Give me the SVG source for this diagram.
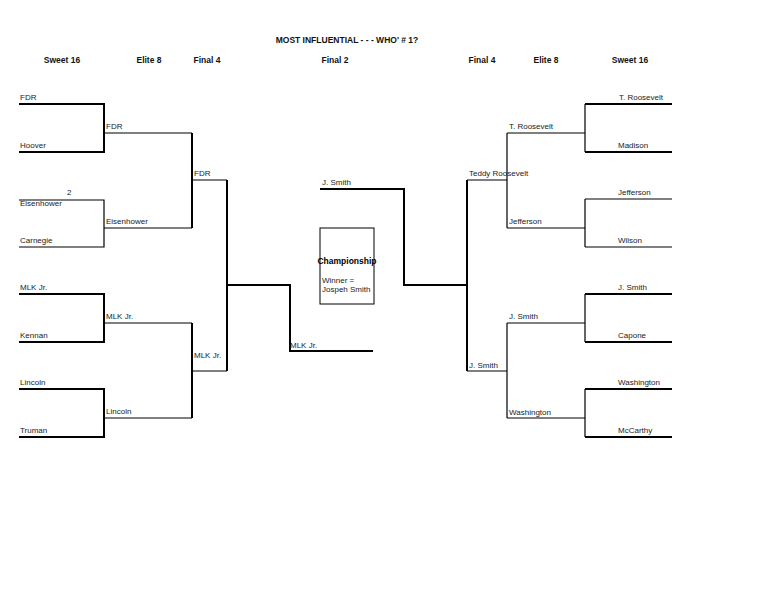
<svg xmlns="http://www.w3.org/2000/svg" width="768" height="594" viewBox="0 0 768 594">
<style>
text{font-family:"Liberation Sans",Arial,sans-serif;font-size:8px;fill:#222}
.h{font-weight:bold;font-size:8.5px;text-anchor:middle;fill:#111}
.k{stroke:#000;stroke-width:2;fill:none}
.t{stroke:#000;stroke-width:1.2;fill:none}
</style>
<rect width="768" height="594" fill="#fff"/>
<g id="headers">
<text class="h" x="347" y="43">MOST INFLUENTIAL - - - WHO' # 1?</text>
<text class="h" x="62" y="63">Sweet 16</text>
<text class="h" x="149" y="63">Elite 8</text>
<text class="h" x="207" y="63">Final 4</text>
<text class="h" x="335" y="63">Final 2</text>
<text class="h" x="482" y="63">Final 4</text>
<text class="h" x="546" y="63">Elite 8</text>
<text class="h" x="630" y="63">Sweet 16</text>
</g>
<g id="connectors">
<path class="k" d="M19 104H104V152H19M19 294H104V342H19M19 389H104V437H19"/>
<path class="t" d="M19 200H104V247H19"/>
<path class="t" d="M104 133H192M104 228H192M104 323H192M104 418H192"/>
<path class="k" d="M192 133V228M192 323V418"/>
<path class="t" d="M192 180H227M192 371H227"/>
<path class="k" d="M227 180V371M227 285H290V351H373"/>
<path class="k" d="M320 189H404V285H467"/>
<path class="t" d="M467 180H507M467 371H507"/>
<path class="k" d="M467 180V371"/>
<path class="t" d="M507 133V228M507 323V418M507 133H585M507 228H585M507 323H585M507 418H585"/>
<path class="t" d="M585 104V152M585 199V247M585 294V342M585 389V437M585 199H672M585 247H672"/>
<path class="k" d="M585 104H672M585 152H672M585 294H672M585 342H672M585 389H672M585 437H672"/>
</g>
<g id="championship">
<rect x="320" y="228" width="54" height="76" fill="none" stroke="#000" stroke-width="1"/>
<text x="347" y="264" style="font-weight:bold;font-size:8.5px;text-anchor:middle;fill:#000">Championship</text>
<text x="322" y="283">Winner =</text>
<text x="322" y="292">Jospeh Smith</text>
</g>
<g id="labels">
<text x="20" y="100">FDR</text>
<text x="20" y="148">Hoover</text>
<text x="67" y="195">2</text>
<text x="20" y="206">Eisenhower</text>
<text x="20" y="243">Carnegie</text>
<text x="20" y="290">MLK Jr.</text>
<text x="20" y="338">Kennan</text>
<text x="20" y="385">Lincoln</text>
<text x="20" y="433">Truman</text>
<text x="106" y="129">FDR</text>
<text x="106" y="224">Eisenhower</text>
<text x="106" y="319">MLK Jr.</text>
<text x="106" y="414">Lincoln</text>
<text x="194" y="176">FDR</text>
<text x="194" y="358">MLK Jr.</text>
<text x="290" y="348">MLK Jr.</text>
<text x="322" y="185">J. Smith</text>
<text x="469" y="176">Teddy Roosevelt</text>
<text x="469" y="368">J. Smith</text>
<text x="509" y="129">T. Roosevelt</text>
<text x="509" y="224">Jefferson</text>
<text x="509" y="319">J. Smith</text>
<text x="509" y="415">Washington</text>
<text x="619" y="100">T. Roosevelt</text>
<text x="618" y="148">Madison</text>
<text x="618" y="195">Jefferson</text>
<text x="618" y="243">Wilson</text>
<text x="618" y="290">J. Smith</text>
<text x="618" y="338">Capone</text>
<text x="618" y="385">Washington</text>
<text x="618" y="433">McCarthy</text>
</g>
</svg>
